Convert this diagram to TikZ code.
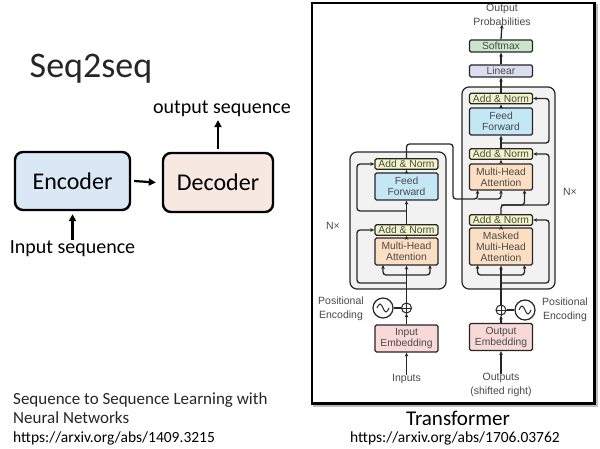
\documentclass[tikz,border=0pt]{standalone}
\usepackage{fontspec}
\setmainfont{Carlito}
\newfontfamily\hv{Liberation Sans}
\usetikzlibrary{arrows.meta}
\definecolor{encfill}{HTML}{DAE8F6}
\definecolor{decfill}{HTML}{F7E9E1}
\definecolor{cAN}{HTML}{F2F5C6}
\definecolor{cFF}{HTML}{C4E7F6}
\definecolor{cMHA}{HTML}{FCDFC2}
\definecolor{cEmb}{HTML}{F9D8D8}
\definecolor{cLin}{HTML}{DCDDF1}
\definecolor{cSm}{HTML}{CAE7CB}
\definecolor{blk}{HTML}{F2F2F2}
\definecolor{bline}{HTML}{262626}
\definecolor{tgray}{HTML}{4A4A4A}
\begin{document}
\begin{tikzpicture}[x=1pt,y=-1pt,
  sbox/.style={draw=black, line width=2.4pt, rounded corners=8pt, inner sep=0pt, font=\fontsize{24}{28}\selectfont},
  sarr/.style={-{Triangle[length=7pt,width=7pt]}, line width=2.2pt},
  tb/.style={draw=bline, line width=1.3pt, rounded corners=1.5pt, minimum width=63pt, inner sep=0pt, align=center, font=\hv\fontsize{10.3}{11}\selectfont, text=tgray},
  an/.style={tb, fill=cAN, minimum height=10.5pt},
  ff/.style={tb, fill=cFF, minimum height=27pt},
  mha/.style={tb, fill=cMHA, minimum height=27pt},
  emb/.style={tb, fill=cEmb, minimum height=27pt},
  lin/.style={tb, fill=cLin, minimum height=12pt},
  smx/.style={tb, fill=cSm, minimum height=12pt},
  tt/.style={align=center, font=\hv\fontsize{10.5}{13.5}\selectfont, text=tgray, inner sep=0pt},
  blkst/.style={draw=bline, line width=1.2pt, fill=blk, rounded corners=7pt},
  arr/.style={-{Stealth[length=4pt,width=3.6pt]}, line width=1.3pt, draw=bline, rounded corners=3pt},
  ln/.style={line width=1.3pt, draw=bline, rounded corners=3pt},
  plus/.style={circle, draw=bline, line width=1pt, fill=white, minimum size=10pt, inner sep=0pt},
  pe/.style={circle, draw=bline, line width=1.2pt, fill=white, minimum size=20pt, inner sep=0pt}
]
\useasboundingbox (0,0) rectangle (600,449);
\fill[white] (0,0) rectangle (600,449);

% ---------- Seq2seq ----------
\node[font=\fontsize{36}{40}\selectfont, text=black!85] (title) at (91,69) {Seq2seq};
\node[sbox, fill=encfill, minimum width=115pt, minimum height=58pt] (enc) at (72.5,181) {Encoder};
\node[sbox, fill=decfill, minimum width=110pt, minimum height=59pt] (dec) at (218,182.5) {Decoder};
\node[font=\fontsize{20}{24}\selectfont, inner sep=1pt] (outs) at (222,109) {output sequence};
\node[font=\fontsize{20}{24}\selectfont, inner sep=1pt] (ins) at (72.5,249) {Input sequence};
\draw[sarr] ([xshift=3pt]enc.east) -- ([xshift=-6pt]dec.west);
\draw[sarr] ([yshift=3pt]dec.north) -- ([yshift=-2pt]dec.north |- outs.south);
\draw[sarr] (ins.north) -- ([yshift=-3pt]enc.south);

\node[anchor=west, font=\fontsize{17}{20}\selectfont, text=black!85, inner sep=0pt] (p1) at (13,400) {Sequence to Sequence Learning with};
\node[anchor=west, font=\fontsize{17}{20}\selectfont, text=black!85, inner sep=0pt] (p2) at (13,418) {Neural Networks};
\node[anchor=west, font=\fontsize{15.5}{18}\selectfont, inner sep=0pt] (u1) at (13,438) {https://arxiv.org/abs/1409.3215};

% ---------- Transformer frame ----------
\draw[line width=2.5pt, black!25] (314.5,5.5) rectangle (597,406);
\draw[line width=2.5pt, black, fill=white] (312,3) rectangle (594.5,403.5);
\node[font=\fontsize{21}{24}\selectfont, inner sep=0pt] (tr) at (458,418) {Transformer};
\node[font=\fontsize{15.5}{18}\selectfont, inner sep=0pt] (u2) at (455,438) {https://arxiv.org/abs/1706.03762};

% blocks
\draw[blkst] (350,152) rectangle (446,289);
\draw[blkst] (462,87) rectangle (555,289);

% ---------- Encoder ----------
\node[an]  (eAN2) at (406.5,164) {Add \& Norm};
\node[ff]  (eFF)  at (406.5,186.5) {Feed\\Forward};
\node[an]  (eAN1) at (406.5,230) {Add \& Norm};
\node[mha] (eMHA) at (406.5,251.5) {Multi-Head\\Attention};
\node[emb] (eEmb) at (406.5,338.5) {Input\\Embedding};
\node[plus] (ePlus) at (406.5,308) {};
\node[pe]  (ePE) at (383,308) {};
\node[tt]  (eIn) at (406.5,379) {Inputs};
\node[tt]  (ePEt) at (341,309) {Positional\\Encoding};
\node[tt]  (eN) at (333,226) {N×};

\draw[line width=0.9pt, bline] (ePlus.north) -- (ePlus.south) (ePlus.west) -- (ePlus.east);
\draw[line width=1pt, bline] ([xshift=-6pt]ePE.center) sin ++(3,-4) cos ++(3,4) sin ++(3,4) cos ++(3,-4);
\draw[arr] ([yshift=-1pt]eIn.north) -- (eEmb.south);
\draw[arr] (eEmb.north) -- (ePlus.south);
\draw[ln] (ePE.east) -- (ePlus.west);
\draw[arr] (ePlus.north) -- (eMHA.south);
\coordinate (eb) at (406.5,275);
\coordinate (ebL) at (383,265);
\coordinate (ebR) at (430,265);
\draw[arr] (eb) -| (ebL);
\draw[arr] (eb) -| (ebR);
\coordinate (er1) at (406.5,283);
\coordinate (er1c) at (357,230);
\draw[arr] (er1) -| (er1c) -- (eAN1.west);
\draw[arr] (eMHA.north) -- (eAN1.south);
\draw[arr] (eAN1.north) -- (eFF.south);
\coordinate (er2) at (406.5,211);
\coordinate (er2c) at (357,164);
\draw[arr] (er2) -| (er2c) -- (eAN2.west);
\draw[arr] (eFF.north) -- (eAN2.south);

% ---------- Decoder ----------
\node[smx] (dSm)  at (501,46) {Softmax};
\node[lin] (dLin) at (501,71) {Linear};
\node[an]  (dAN3) at (501,98.5) {Add \& Norm};
\node[ff]  (dFF)  at (501,121.5) {Feed\\Forward};
\node[an]  (dAN2) at (501,154) {Add \& Norm};
\node[mha, minimum height=26pt] (dMHA) at (501,177) {Multi-Head\\Attention};
\node[an]  (dAN1) at (501,220) {Add \& Norm};
\node[mha, minimum height=37pt] (dMMHA) at (501,246.5) {Masked\\Multi-Head\\Attention};
\node[emb] (dEmb) at (501,337) {Output\\Embedding};
\node[plus] (dPlus) at (501,310) {};
\node[pe]  (dPE) at (525,310) {};
\node[tt]  (dOut) at (501,385) {Outputs\\(shifted right)};
\node[tt]  (dPEt) at (565,310) {Positional\\Encoding};
\node[tt]  (dN) at (570,192) {N×};
\node[tt]  (dProb) at (502,15) {Output\\Probabilities};

\draw[line width=0.9pt, bline] (dPlus.north) -- (dPlus.south) (dPlus.west) -- (dPlus.east);
\draw[line width=1pt, bline] ([xshift=-6pt]dPE.center) sin ++(3,-4) cos ++(3,4) sin ++(3,4) cos ++(3,-4);
\draw[arr] ([yshift=-1pt]dOut.north) -- (dEmb.south);
\draw[arr] (dEmb.north) -- (dPlus.south);
\draw[ln] (dPE.west) -- (dPlus.east);
\draw[arr] (dPlus.north) -- (dMMHA.south);
\coordinate (db) at (501,275);
\coordinate (dbL) at (477.5,265);
\coordinate (dbR) at (524.5,265);
\draw[arr] (db) -| (dbL);
\draw[arr] (db) -| (dbR);
\coordinate (dr1) at (501,283);
\coordinate (dr1c) at (549,220);
\draw[arr] (dr1) -| (dr1c) -- (dAN1.east);
\draw[arr] (dMMHA.north) -- (dAN1.south);

% encoder output to decoder cross attention
\coordinate (eo1) at (406.5,144);
\coordinate (eo2) at (453,144);
\coordinate (eo3) at (453,199);
\coordinate (eo4) at (477.5,199);
\coordinate (kL) at (477.5,190);
\coordinate (kM) at (501,190);
\draw[arr] (eAN2.north) -- (eo1) -- (eo2) -- (eo3) -- (eo4) -- (kL);
\draw[arr] (eo4) -| (kM);
% decoder query
\coordinate (dq1) at (501,205);
\coordinate (kR) at (524.5,190);
\draw[arr] (dAN1.north) -- (dq1) -| (kR);
\coordinate (dr2c) at (549,154);
\draw[arr] (dq1) -| (dr2c) -- (dAN2.east);
\draw[arr] (dMHA.north) -- (dAN2.south);
\draw[arr] (dAN2.north) -- (dFF.south);
\coordinate (dr3) at (501,143);
\coordinate (dr3c) at (549,98.5);
\draw[arr] (dr3) -| (dr3c) -- (dAN3.east);
\draw[arr] (dFF.north) -- (dAN3.south);
\draw[arr] (dAN3.north) -- (dLin.south);
\draw[arr] (dLin.north) -- (dSm.south);
\draw[arr] (dSm.north) -- ([yshift=1pt]dProb.south);
\end{tikzpicture}
\end{document}
